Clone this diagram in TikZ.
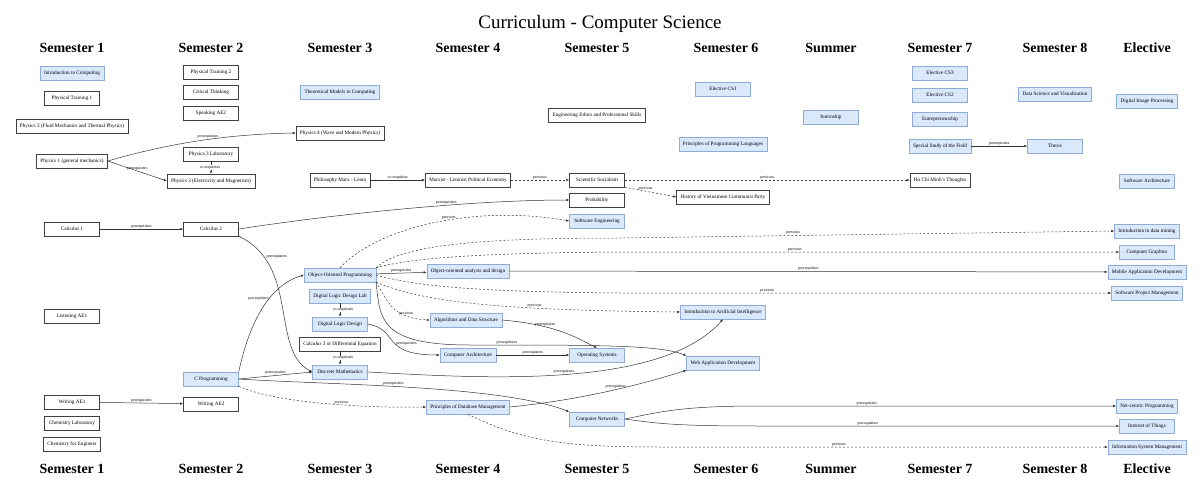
\documentclass[tikz,border=0pt]{standalone}
\usepackage{fontspec}
\setmainfont{Liberation Serif}
\usetikzlibrary{arrows.meta}
\definecolor{bfill}{HTML}{DAE8FC}
\definecolor{bdraw}{HTML}{8FACD6}
\begin{document}
\begin{tikzpicture}[x=1pt,y=-1pt,
 c/.style={draw=black!75,line width=0.5pt,fill=white,font=\fontsize{5.2}{6}\selectfont,inner xsep=4pt,minimum height=14pt,minimum width=55pt},
 b/.style={c,draw=bdraw,fill=bfill},
 hd/.style={font=\fontsize{14}{16}\selectfont\bfseries},
 e/.style={draw=black!80,line width=0.5pt,-{Latex[length=3pt,width=2.5pt]}},
 d/.style={e,dashed,dash pattern=on 2pt off 2pt},
 l/.style={font=\fontsize{4}{5}\selectfont,inner sep=0.5pt}]
\useasboundingbox (0,0) rectangle (1200,495);
\node[font=\fontsize{19}{22}\selectfont] (title) at (600,24) {Curriculum - Computer Science};
\foreach \n/\x/\t in {h1/72/Semester 1,h2/211/Semester 2,h3/340/Semester 3,h4/468/Semester 4,h5/597/Semester 5,h6/726/Semester 6,h7/831/Summer,h8/940/Semester 7,h9/1055/Semester 8,h10/1147/Elective}{
 \node[hd] (\n t) at (\x,48) {\t};
 \node[hd] (\n b) at (\x,469) {\t};}
% semester 1
\node[b] (intro) at (72,73) {Introduction to Computing};
\node[c] (pt1) at (72,98) {Physical Training 1};
\node[c] (phys2) at (72,126) {Physics 2 (Fluid Mechanics and Thermal Physics)};
\node[c] (phys1) at (72,161) {Physics 1 (general mechanics)};
\node[c] (calc1) at (72,229) {Calculus 1};
\node[c] (listen) at (72,316) {Listening AE1};
\node[c] (wr1) at (72,402) {Writing AE1};
\node[c] (chl) at (72,423) {Chemistry Laboratory};
\node[c] (che) at (72,444) {Chemistry for Engineer};
% semester 2
\node[c] (pt2) at (211,72) {Physical Training 2};
\node[c] (ct) at (211,92) {Critical Thinking};
\node[c] (sp2) at (211,113) {Speaking AE2};
\node[c] (p3l) at (211,154) {Physics 3 Laboratory};
\node[c] (phys3) at (211,181) {Physics 3 (Electricity and Magnetism)};
\node[c] (calc2) at (211,229) {Calculus 2};
\node[b] (cprog) at (211,379) {C Programming};
\node[c] (wr2) at (211,404) {Writing AE2};
% semester 3
\node[b] (tmc) at (340,92) {Theoretical Models in Computing};
\node[c] (phys4) at (340,133) {Physics 4 (Wave and Modern Physics)};
\node[c] (philo) at (340,180) {Philosophy Marx - Lenin};
\node[b] (oop) at (340,275) {Object-Oriented Programming};
\node[b] (dldl) at (340,296) {Digital Logic Design Lab};
\node[b] (dld) at (340,324) {Digital Logic Design};
\node[c] (calc3) at (340,344) {Calculus 3 or Differential Equation};
\node[b] (dm) at (340,372) {Discrete Mathematics};
% semester 4
\node[c] (marx) at (468,180) {Marxist - Leninist Political Economy};
\node[b] (ooad) at (468,271) {Object-oriented analysis and design};
\node[b] (algo) at (466,320) {Algorithms and Data Structure};
\node[b] (ca) at (468,355) {Computer Architecture};
\node[b] (pdm) at (468,407) {Principles of Database Management};
% semester 5
\node[c] (eth) at (597,115) {Engineering Ethics and Professional Skills};
\node[c] (ss) at (597,180) {Scientific Socialism};
\node[c] (prob) at (597,200) {Probability};
\node[b] (se) at (597,221) {Software Engineering};
\node[b] (os) at (597,355) {Operating Systems};
\node[b] (cn) at (597,419) {Computer Networks};
% semester 6
\node[b] (ecs1) at (723,89) {Elective CS1};
\node[b] (ppl) at (723,144) {Principles of Programming Languages};
\node[c] (hist) at (723,197) {History of Vietnamese Communist Party};
\node[b] (ai) at (723,312) {Introduction to Artificial Intelligence};
\node[b] (web) at (723,363) {Web Application Development};
% summer, 7, 8
\node[b] (intern) at (831,117) {Internship};
\node[b] (ecs3) at (940,73) {Elective CS3};
\node[b] (ecs2) at (940,95) {Elective CS2};
\node[b] (entre) at (940,119) {Entrepreneurship};
\node[b] (spec) at (940,146) {Special Study of the Field};
\node[c] (hcm) at (940,180) {Ho Chi Minh's Thoughts};
\node[b] (dsv) at (1055,94) {Data Science and Visualization};
\node[b] (thesis) at (1055,146) {Thesis};
% elective
\node[b] (dip) at (1147,101) {Digital Image Processing};
\node[b] (sa) at (1147,181) {Software Architecture};
\node[b] (dmin) at (1147,231) {Introduction to data mining};
\node[b] (cg) at (1147,252) {Computer Graphics};
\node[b] (mad) at (1147,272) {Mobile Application Development};
\node[b] (spm) at (1147,293) {Software Project Management};
\node[b] (netc) at (1147,406) {Net-centric Programming};
\node[b] (iot) at (1147,426) {Internet of Things};
\node[b] (ism) at (1147,447) {Information System Management};
% edges
\draw[e] (phys1.east) .. controls (180,140) and (240,134) .. node[l,above,pos=0.5]{prerequisites} (phys4.west);
\draw[e] (phys1.east) -- node[l,above]{prerequisites} (phys3.west);
\draw[e] (p3l) -- node[l,right=-12pt,pos=0.5,fill=white]{co-requisites} (phys3);
\draw[e] (calc1) -- node[l,above]{prerequisites} (calc2);
\draw[e] (wr1) -- node[l,above]{prerequisites} (wr2);
\draw[e] (calc2.east) .. controls (350,212) and (480,200) .. node[l,above,pos=0.6]{prerequisites} (prob.west);
\draw[e] (calc2.south east) .. controls (300,265) and (270,350) .. node[l,above right,pos=0.2]{prerequisites} (dm.west);
\draw[e] (cprog.north east) .. controls (250,320) and (270,285) .. node[l,left,pos=0.6]{prerequisites} (oop.west);
\draw[e] (cprog.east) -- node[l,above]{prerequisites} (dm.west);
\draw[e] (cprog.east) .. controls (330,385) and (500,385) .. node[l,above,pos=0.45]{prerequisites} (cn.north west);
\draw[d] (cprog.south east) .. controls (280,405) and (380,408) .. node[l,above,pos=0.55]{previous} (pdm.west);
\draw[e] (philo) -- node[l,above]{co-requisites} (marx);
\draw[d] (marx) -- node[l,above]{previous} (ss);
\draw[d] (ss) -- node[l,above]{previous} (hcm);
\draw[d] (ss.south east) -- node[l,above,pos=0.4]{previous} (hist.west);
\draw[d] (oop.north) .. controls (380,225) and (480,205) .. node[l,above,pos=0.55]{previous} (se.west);
\draw[d] (oop.north east) .. controls (400,245) and (480,238) .. (620,238) -- node[l,above,pos=0.35]{previous} (dmin.west);
\draw[d] (oop.north east) .. controls (410,258) and (480,253) .. (620,252) -- node[l,above,pos=0.35]{previous} (cg.west);
\draw[e] (oop) -- node[l,above]{prerequisites} (ooad);
\draw[e] (ooad) -- node[l,above,pos=0.5]{prerequisites} (mad);
\draw[d] (oop.east) .. controls (420,288) and (500,292) .. (620,293) -- node[l,above,pos=0.3]{previous} (spm.west);
\draw[d] (oop.south east) .. controls (420,300) and (480,310) .. node[l,above,pos=0.7]{previous} (ai.west);
\draw[d] (oop.south east) .. controls (388,300) and (390,318) .. node[l,above,pos=0.75]{previous} (algo.west);
\draw[e] (oop.south east) .. controls (380,320) and (380,345) .. (470,345) .. controls (600,345) and (660,345) .. node[l,above,pos=0.1]{prerequisites} (web.north west);
\draw[e] (dldl) -- node[l,left=-14pt,fill=white]{co-requisites} (dld);
\draw[e] (calc3) -- node[l,left=-14pt,fill=white]{co-requisites} (dm);
\draw[e] (dld.east) .. controls (400,330) and (380,355) .. node[l,right,pos=0.55]{prerequisites} (ca.west);
\draw[e] (algo.east) .. controls (560,325) and (580,340) .. node[l,above,pos=0.3]{prerequisites} (os.north);
\draw[e] (ca) -- node[l,above]{prerequisites} (os);
\draw[e] (dm.east) .. controls (480,378) and (660,390) .. node[l,above,pos=0.5]{prerequisites} (ai.south);
\draw[e] (pdm.east) .. controls (580,400) and (640,385) .. node[l,above,pos=0.55]{prerequisites} (web.south west);
\draw[d] (pdm.south) .. controls (520,440) and (560,447) .. (660,447) -- node[l,above,pos=0.4]{previous} (ism.west);
\draw[e] (cn.east) .. controls (660,412) and (680,406) .. (760,406) -- node[l,above,pos=0.3]{prerequisites} (netc.west);
\draw[e] (cn.east) .. controls (660,424) and (680,426) .. (760,426) -- node[l,above,pos=0.3]{prerequisites} (iot.west);
\draw[e] (spec) -- node[l,above]{prerequisites} (thesis);
\end{tikzpicture}
\end{document}
